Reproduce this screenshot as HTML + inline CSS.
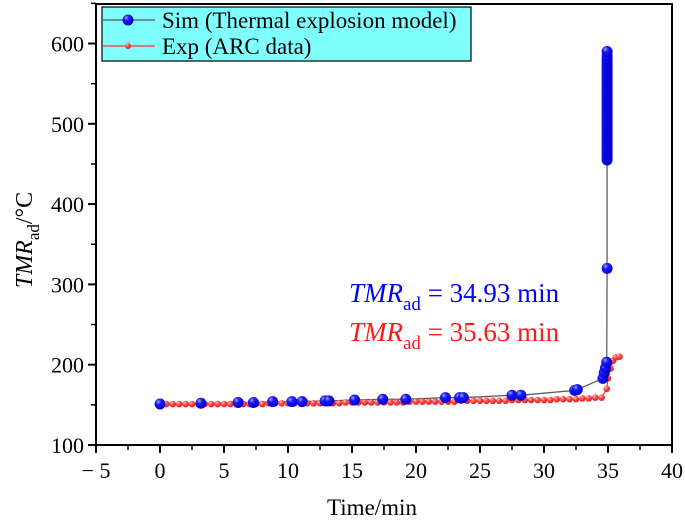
<!DOCTYPE html>
<html><head><meta charset="utf-8"><style>
body{margin:0;background:#fff}
svg text{font-family:"Liberation Serif",serif}
</style></head><body>
<svg id="chart" width="685" height="523" xmlns="http://www.w3.org/2000/svg">
<defs>
<radialGradient id="gb" cx="0.35" cy="0.3" r="0.7"><stop offset="0" stop-color="#aab"/><stop offset="0.35" stop-color="#1a1aff"/><stop offset="1" stop-color="#0000cc"/></radialGradient>
<radialGradient id="gr" cx="0.35" cy="0.3" r="0.7"><stop offset="0" stop-color="#fcc"/><stop offset="0.4" stop-color="#ff5050"/><stop offset="1" stop-color="#e02020"/></radialGradient>
</defs>
<g id="plot"></g>
<rect x="96" y="4" width="576" height="441" fill="none" stroke="#000" stroke-width="2"/>
<g id="axes"></g>
<g>
<rect x="102" y="7" width="369" height="54" fill="#80ffff" stroke="#000" stroke-width="1.2"/>
<line x1="103" y1="20" x2="155" y2="20" stroke="#555" stroke-width="1.2"/>
<circle cx="128" cy="20" r="5.5" fill="url(#gb)"/>
<text x="162" y="28" font-size="23">Sim (Thermal explosion model)</text>
<line x1="103" y1="46" x2="155" y2="46" stroke="#f33" stroke-width="1.2"/>
<circle cx="128" cy="46" r="3" fill="url(#gr)"/>
<text x="162" y="54" font-size="23">Exp (ARC data)</text>
</g>
<text x="349" y="302" font-size="27" fill="#0000ff"><tspan font-style="italic">TMR</tspan><tspan font-size="19" dy="8">ad</tspan><tspan dy="-8"> = 34.93 min</tspan></text>
<text x="349" y="341" font-size="27" fill="#ff1a1a"><tspan font-style="italic">TMR</tspan><tspan font-size="19" dy="8">ad</tspan><tspan dy="-8"> = 35.63 min</tspan></text>
<text x="372" y="515" font-size="23" text-anchor="middle">Time/min</text>
<text transform="translate(32,240) rotate(-90)" font-size="24" text-anchor="middle"><tspan font-style="italic">TMR</tspan><tspan font-size="17" dy="7">ad</tspan><tspan dy="-7">/°C</tspan></text>
</svg>
<script>
const xTicks=[-5,0,5,10,15,20,25,30,35,40];
const yTicks=[100,200,300,400,500,600];
const simX=[0,3.2,6.1,7.3,8.8,10.3,11.1,12.9,13.2,15.2,17.4,19.2,22.3,23.4,23.7,27.5,28.2,32.4,32.6,34.6,34.7,34.8,34.9,34.93,34.93,34.93,34.93,34.93,34.93,34.93,34.93,34.93,34.93,34.93,34.93,34.93,34.93,34.93,34.93,34.93,34.93,34.93,34.93,34.93,34.93,34.93,34.93,34.93,34.93,34.93,34.93,34.93,34.93,34.93,34.93,34.93,34.93,34.93,34.93,34.93,34.93,34.93,34.93,34.93,34.93,34.93,34.93,34.93,34.93];
const simY=[151,152,153,153,154,154,154,155,155,156,157,157,159,159,159,162,162,168,169,183,190,196,203,320,455,458,461,464,467,470,473,476,479,482,485,488,491,494,497,500,503,506,509,512,515,518,521,524,527,530,533,536,539,542,545,548,551,554,557,560,563,566,569,572,575,578,581,585,590];
const expX=[0,0.5,1,1.5,2,2.5,3,3.5,4,4.5,5,5.5,6,6.5,7,7.5,8,8.5,9,9.5,10,10.5,11,11.5,12,12.5,13,13.5,14,14.5,15,15.5,16,16.5,17,17.5,18,18.5,19,19.5,20,20.5,21,21.5,22,22.5,23,23.5,24,24.5,25,25.5,26,26.5,27,27.5,28,28.5,29,29.5,30,30.5,31,31.5,32,32.5,33,33.5,34,34.5,34.9,35.0,35.2,35.4,35.6,35.9];
const expY=[151,151,151,151,151,151,151,151,151,151,151,151,151,151,151,151,151,152,152,152,152,152,152,152,152,152,152,152,152,153,153,153,153,153,153,153,153,153,153,154,154,154,154,154,154,154,154,155,155,155,155,155,155,155,155,156,156,156,156,156,156,156,157,157,157,157,158,158,159,159,170,183,195,205,209,210];
var X=function(v){return 160+v*12.8;};
var Y=function(v){return 445-(v-100)*0.803;};
var NS="http://www.w3.org/2000/svg";
var plot=document.getElementById('plot'), axes=document.getElementById('axes');
function mk(t,a,p){var e=document.createElementNS(NS,t);for(var k in a)e.setAttribute(k,a[k]);p.appendChild(e);return e;}
var d1=simX.map(function(x,i){return (i?'L':'M')+X(x)+','+Y(simY[i]);}).join('');
var sl=mk('path',{d:d1,fill:'none',stroke:'#555','stroke-width':1.2},plot);


var d2=expX.map(function(x,i){return (i?'L':'M')+X(x)+','+Y(expY[i]);}).join('');
var el=mk('path',{d:d2,fill:'none',stroke:'#f33','stroke-width':1.2},plot);


expX.forEach(function(x,i){var c=mk('circle',{cx:X(x),cy:Y(expY[i]),r:3.3,fill:'url(#gr)'},plot);

});
simX.forEach(function(x,i){var c=mk('circle',{cx:X(x),cy:Y(simY[i]),r:5.5,fill:'url(#gb)'},plot);

});
xTicks.forEach(function(t,i){mk('line',{x1:X(t),y1:445,x2:X(t),y2:453,stroke:'#000','stroke-width':2},axes);
if(i<xTicks.length-1)mk('line',{x1:X(t+2.5),y1:445,x2:X(t+2.5),y2:450,stroke:'#000','stroke-width':1.5},axes);
var tx=mk('text',{x:X(t),y:478,'font-size':22,'text-anchor':'middle'},axes);tx.textContent=t<0?'\u2212 '+(-t):String(t);

});
yTicks.forEach(function(t){mk('line',{x1:88,y1:Y(t),x2:96,y2:Y(t),stroke:'#000','stroke-width':2},axes);
mk('line',{x1:91,y1:Y(t+50),x2:96,y2:Y(t+50),stroke:'#000','stroke-width':1.5},axes);
var tx=mk('text',{x:84,y:Y(t)+8,'font-size':22,'text-anchor':'end'},axes);tx.textContent=String(t);

});
</script>
</body></html>
